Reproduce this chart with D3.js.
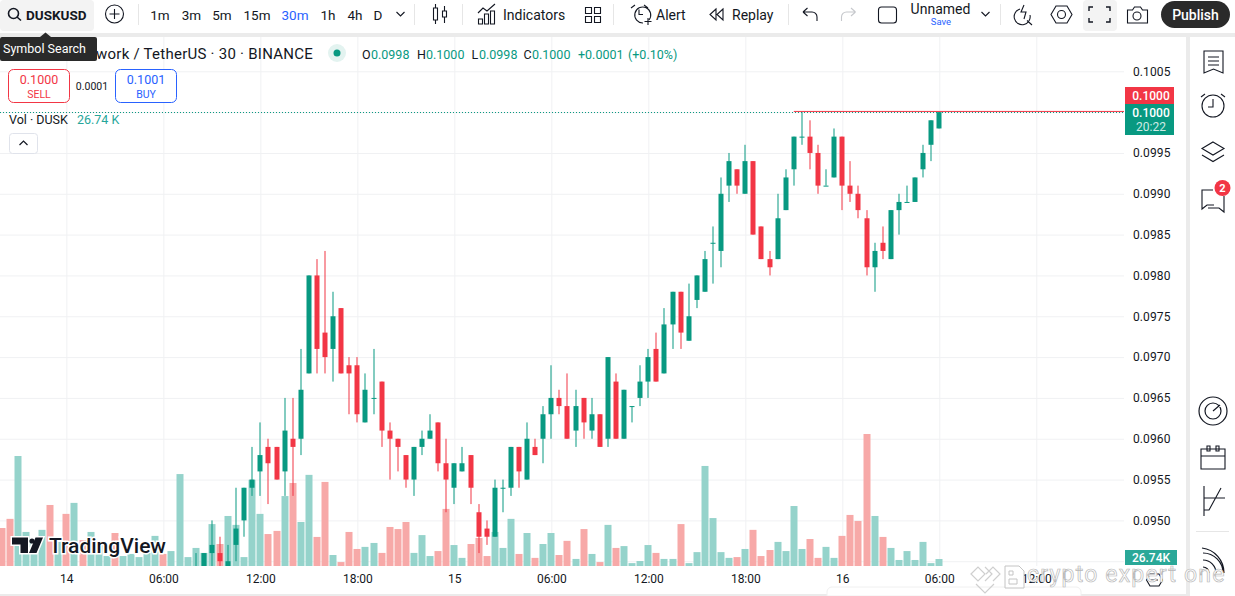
<!DOCTYPE html>
<html>
<head>
<meta charset="utf-8">
<script src="https://cdnjs.cloudflare.com/ajax/libs/d3/7.8.5/d3.min.js"></script>
<style>
  html, body { margin: 0; padding: 0; background: #fff; overflow: hidden; }
  svg { display: block; font-family: Roboto, sans-serif; }
  text { fill: #131722; }
</style>
</head>
<body>
<svg id="chart" width="1235" height="596"></svg>
<script>
// 30 minute candles, the first 24 volume bars have no visible candle
const candleOpen = [0.0942,0.0943,0.0946,0.0946,0.0943,0.0947,0.0950,0.0954,0.0956,0.0959,0.0959,0.0956,0.0960,0.0960,0.0968,0.0980,0.0973,0.0971,0.0976,0.0969,0.0969,0.0962,0.0965,0.0967,0.0961,0.0960,0.0958,0.0955,0.0959,0.0960,0.0962,0.0957,0.0954,0.0956,0.0958,0.0951,0.0949,0.0948,0.0954,0.0954,0.0959,0.0955,0.0959,0.0960,0.0963,0.0965,0.0964,0.0961,0.0965,0.0961,0.0963,0.0960,0.0967,0.0960,0.0964,0.0965,0.0967,0.0971,0.0968,0.0974,0.0978,0.0972,0.0977,0.0978,0.0984,0.0983,0.0991,0.0993,0.0990,0.0994,0.0986,0.0982,0.0982,0.0988,0.0993,0.0997,0.0997,0.0995,0.0991,0.0992,0.0997,0.0991,0.0990,0.0987,0.0981,0.0984,0.0982,0.0988,0.0989,0.0989,0.0993,0.0996,0.0998];
const candleHigh = [0.0946,0.0946,0.0950,0.0948,0.0947,0.0954,0.0954,0.0959,0.0962,0.0960,0.0959,0.0965,0.0965,0.0971,0.0980,0.0982,0.0983,0.0978,0.0976,0.0970,0.0970,0.0968,0.0971,0.0967,0.0962,0.0960,0.0958,0.0959,0.0961,0.0963,0.0962,0.0960,0.0957,0.0959,0.0958,0.0952,0.0950,0.0955,0.0955,0.0959,0.0959,0.0962,0.0960,0.0964,0.0969,0.0966,0.0968,0.0966,0.0965,0.0965,0.0963,0.0970,0.0968,0.0966,0.0964,0.0969,0.0971,0.0973,0.0976,0.0978,0.0978,0.0979,0.0980,0.0983,0.0986,0.0992,0.0995,0.0993,0.0996,0.0994,0.0986,0.0983,0.0990,0.0993,0.0997,0.1000,0.0999,0.0996,0.0993,0.0998,0.0997,0.0994,0.0991,0.0988,0.0984,0.0986,0.0988,0.0990,0.0991,0.0992,0.0996,0.0999,0.1000];
const candleLow = [0.0942,0.0942,0.0943,0.0943,0.0943,0.0945,0.0948,0.0953,0.0953,0.0952,0.0955,0.0953,0.0953,0.0958,0.0968,0.0968,0.0968,0.0967,0.0968,0.0963,0.0962,0.0962,0.0963,0.0959,0.0955,0.0956,0.0954,0.0953,0.0958,0.0960,0.0956,0.0951,0.0952,0.0956,0.0952,0.0946,0.0947,0.0948,0.0951,0.0953,0.0954,0.0955,0.0958,0.0957,0.0960,0.0963,0.0960,0.0959,0.0960,0.0960,0.0959,0.0959,0.0960,0.0960,0.0962,0.0964,0.0965,0.0967,0.0968,0.0971,0.0971,0.0972,0.0976,0.0978,0.0979,0.0981,0.0989,0.0990,0.0990,0.0985,0.0982,0.0980,0.0982,0.0988,0.0991,0.0996,0.0993,0.0990,0.0991,0.0992,0.0988,0.0989,0.0987,0.0980,0.0978,0.0982,0.0982,0.0985,0.0989,0.0989,0.0992,0.0994,0.0998];
const candleClose = [0.0944,0.0946,0.0947,0.0945,0.0945,0.0949,0.0954,0.0955,0.0958,0.0957,0.0955,0.0961,0.0959,0.0966,0.0980,0.0971,0.0970,0.0975,0.0968,0.0968,0.0963,0.0966,0.0965,0.0961,0.0960,0.0959,0.0955,0.0959,0.0960,0.0961,0.0957,0.0955,0.0957,0.0957,0.0954,0.0948,0.0948,0.0954,0.0954,0.0959,0.0956,0.0960,0.0958,0.0963,0.0965,0.0964,0.0960,0.0964,0.0962,0.0963,0.0959,0.0970,0.0960,0.0966,0.0964,0.0967,0.0970,0.0967,0.0974,0.0978,0.0973,0.0975,0.0980,0.0982,0.0984,0.0990,0.0994,0.0991,0.0994,0.0985,0.0982,0.0981,0.0987,0.0992,0.0997,0.0997,0.0995,0.0991,0.0991,0.0997,0.0991,0.0990,0.0988,0.0981,0.0983,0.0983,0.0988,0.0989,0.0989,0.0992,0.0995,0.0999,0.1000];
const firstCandleBar = 24;

// volume in thousands, one per bar
const volumes = [145,180,420,130,99,138,233,92,199,241,99,130,84,38,126,38,46,34,50,115,46,57,351,34,69,50,160,84,191,157,34,329,199,122,134,267,317,168,348,111,321,42,15,130,65,73,88,50,149,141,168,50,118,38,57,218,80,31,84,107,38,130,69,180,46,126,31,84,126,42,96,27,141,46,15,157,69,76,11,19,80,50,27,27,160,11,53,382,183,53,31,34,65,138,38,61,92,57,229,65,103,31,73,31,115,195,172,504,191,111,69,23,57,23,92,11,26.74];
// direction of the bars before the first visible candle
const earlyVolumeUp = [0,0,1,1,1,1,0,1,0,1,0,1,1,1,0,1,1,1,1,1,0,1,1,1];

const priceTicks = [0.1005,0.1000,0.0995,0.0990,0.0985,0.0980,0.0975,0.0970,0.0965,0.0960,0.0955,0.0950];
const priceGridExtra = [0.0945];
const timeTickBars = [8,20,32,44,56,68,80,92,104,116,128];
const timeTickLabels = ['14','06:00','12:00','18:00','15','06:00','12:00','18:00','16','06:00','12:00'];

const intervals = ['1m','3m','5m','15m','30m','1h','4h','D'];
const intervalX = [160,191.5,222,257,295,328,355,378];

const UP = '#089981', DOWN = '#f23645', BLUE = '#2962ff', INK = '#131722', GRID = '#f0f1f3', DARK = '#2a2a2a';
const paneBottom = 566, axisLeft = 1124;

const svg = d3.select('#chart');
const x = d3.scaleLinear().domain([0, 128]).range([1.7, 1036.3]);
const y = d3.scaleLinear().domain([0.0950, 0.1005]).range([520.4, 71.3]);
const volY = d3.scaleLinear().domain([0, 504]).range([paneBottom, paneBottom - 132]);

svg.append('defs').append('clipPath').attr('id', 'pane')
  .append('rect').attr('x', 0).attr('y', 37).attr('width', axisLeft).attr('height', paneBottom - 37);

function txt(sel, s, px, py, size, color, opts) {
  opts = opts || {};
  const t = sel.append('text').text(s).attr('x', px).attr('y', py)
    .attr('font-size', size).attr('dominant-baseline', 'central')
    .attr('text-anchor', opts.anchor || 'start')
    .style('fill', color);
  if (opts.weight) t.attr('font-weight', opts.weight);
  return t;
}

// page frame
svg.append('rect').attr('width', 1235).attr('height', 596).attr('fill', '#fff');
svg.append('rect').attr('x', 0).attr('y', 33).attr('width', 1235).attr('height', 4).attr('fill', '#ebebeb');
svg.append('rect').attr('x', 1186).attr('y', 33).attr('width', 4).attr('height', 563).attr('fill', '#ebebeb');
svg.append('rect').attr('x', 0).attr('y', 594).attr('width', 1186).attr('height', 2).attr('fill', '#ebebeb');

// grid, drawn by the axes
const gridG = svg.append('g').attr('clip-path', 'url(#pane)');
gridG.append('g').attr('transform', `translate(${axisLeft},0)`)
  .call(d3.axisLeft(y).tickValues(priceTicks.concat(priceGridExtra)).tickSize(axisLeft).tickFormat(''))
  .call(g => g.select('.domain').remove())
  .call(g => g.selectAll('line').attr('stroke', GRID));
gridG.append('g').attr('transform', `translate(0,${paneBottom})`)
  .call(d3.axisTop(x).tickValues(timeTickBars).tickSize(paneBottom - 37).tickFormat(''))
  .call(g => g.select('.domain').remove())
  .call(g => g.selectAll('line').attr('stroke', GRID));

// volume bars
function barUp(i) {
  if (i < firstCandleBar) return earlyVolumeUp[i] === 1;
  return candleClose[i - firstCandleBar] >= candleOpen[i - firstCandleBar];
}
svg.append('g').selectAll('rect').data(volumes).join('rect')
  .attr('x', (d, i) => Math.round(x(i)) - 3.5)
  .attr('width', 7)
  .attr('y', d => volY(d))
  .attr('height', d => paneBottom - volY(d))
  .attr('fill', (d, i) => barUp(i) ? '#95d3cb' : '#f7a9a8');

// candles
const candles = candleOpen.map((o, i) => ({ bar: i + firstCandleBar, o, h: candleHigh[i], l: candleLow[i], c: candleClose[i] }));
const candleG = svg.append('g').attr('clip-path', 'url(#pane)').selectAll('g').data(candles).join('g')
  .attr('fill', d => d.c >= d.o ? UP : DOWN);
candleG.append('rect')
  .attr('x', d => Math.round(x(d.bar)) - 0.5)
  .attr('width', 1)
  .attr('y', d => y(d.h))
  .attr('height', d => y(d.l) - y(d.h));
candleG.append('rect')
  .attr('x', d => Math.round(x(d.bar)) - 2.5)
  .attr('width', 5)
  .attr('y', d => y(Math.max(d.o, d.c)))
  .attr('height', d => Math.max(1, Math.abs(y(d.o) - y(d.c))));

// last price lines
svg.append('line').attr('x1', 0).attr('x2', axisLeft).attr('y1', y(0.1000) + 0.4).attr('y2', y(0.1000) + 0.4)
  .attr('stroke', UP).attr('stroke-dasharray', '1 2');
svg.append('line').attr('x1', x(98)).attr('x2', axisLeft).attr('y1', y(0.1000) - 0.7).attr('y2', y(0.1000) - 0.7)
  .attr('stroke', DOWN);

// price axis
svg.append('g').attr('transform', 'translate(1133,0)')
  .call(d3.axisRight(y).tickValues(priceTicks.filter(p => p !== 0.1000)).tickSize(0).tickPadding(0).tickFormat(d3.format('.4f')))
  .call(g => g.select('.domain').remove())
  .call(g => g.selectAll('text').attr('font-size', 12).attr('font-family', 'Roboto').style('letter-spacing', '0.1px').style('fill', INK));

// time axis
svg.append('g').attr('transform', `translate(0,${paneBottom})`)
  .call(d3.axisBottom(x).tickValues(timeTickBars).tickSize(0).tickPadding(8).tickFormat((d, i) => timeTickLabels[i]))
  .call(g => g.select('.domain').remove())
  .call(g => g.selectAll('text').attr('font-size', 12).attr('font-family', 'Roboto').style('fill', INK));

// price tags on the axis
svg.append('rect').attr('x', 1125).attr('y', 87).attr('width', 49).attr('height', 17).attr('fill', DOWN);
txt(svg, '0.1000', 1151, 96, 12, '#fff', { anchor: 'middle', weight: 500 });
svg.append('rect').attr('x', 1125).attr('y', 104).attr('width', 49).attr('height', 31).attr('fill', UP);
txt(svg, '0.1000', 1151, 113, 12, '#fff', { anchor: 'middle', weight: 500 });
txt(svg, '20:22', 1151, 126.5, 12, '#cfeae5', { anchor: 'middle' });
svg.append('rect').attr('x', 1125).attr('y', 550).attr('width', 52).attr('height', 15).attr('fill', '#2aa898');
txt(svg, '26.74K', 1151, 558, 12, '#fff', { anchor: 'middle', weight: 500 });

// TradingView logo
const logo = svg.append('g');
logo.append('path').attr('d', 'M12 537.5h16v15.5h-7.5v-8.5H12z M43 537.5l-6.5 15.5h-7.5l6.5-15.5z')
  .attr('fill', '#131722').attr('stroke', '#fff').attr('stroke-width', 3).attr('paint-order', 'stroke');
logo.append('circle').attr('cx', 32).attr('cy', 541).attr('r', 2.6).attr('fill', '#131722');
txt(logo, 'TradingView', 49, 545.5, 21, '#131722', { weight: 500 })
  .attr('stroke', '#fff').attr('stroke-width', 3).attr('paint-order', 'stroke');

// legend
txt(svg, 'work / TetherUS · 30 · BINANCE', 313, 54, 15, INK, { anchor: 'end' }).style('letter-spacing', '0.25px');
svg.append('circle').attr('cx', 337).attr('cy', 53).attr('r', 9).attr('fill', '#e3f3f0');
svg.append('circle').attr('cx', 337).attr('cy', 53).attr('r', 3.5).attr('fill', UP);
[['O', 362, '0.0998', 371], ['H', 417, '0.1000', 426], ['L', 471.5, '0.0998', 479], ['C', 523.5, '0.1000', 532]].forEach(r => {
  txt(svg, r[0], r[1], 54, 12.5, INK);
  txt(svg, r[2], r[3], 54, 12.5, UP);
});
txt(svg, '+0.0001', 578, 54, 12.5, UP);
txt(svg, '(+0.10%)', 628, 54, 12.5, UP);

// sell and buy boxes
svg.append('rect').attr('x', 8.5).attr('y', 69.5).attr('width', 61).attr('height', 33).attr('rx', 5).attr('fill', '#fff').attr('stroke', DOWN);
txt(svg, '0.1000', 39, 79.5, 12.5, DOWN, { anchor: 'middle' });
txt(svg, 'SELL', 39, 94, 10.5, DOWN, { anchor: 'middle' });
txt(svg, '0.0001', 92, 86.5, 10.5, INK, { anchor: 'middle' });
svg.append('rect').attr('x', 115.5).attr('y', 69.5).attr('width', 61).attr('height', 33).attr('rx', 5).attr('fill', '#fff').attr('stroke', BLUE);
txt(svg, '0.1001', 146, 79.5, 12.5, BLUE, { anchor: 'middle' });
txt(svg, 'BUY', 146, 94, 10.5, BLUE, { anchor: 'middle' });

// volume legend
txt(svg, 'Vol · DUSK', 9, 119, 12.5, INK);
txt(svg, '26.74 K', 77, 119, 12.5, '#26a69a');
svg.append('rect').attr('x', 9.5).attr('y', 133.5).attr('width', 28).attr('height', 20).attr('rx', 3).attr('fill', '#fff').attr('stroke', '#e0e3eb');
svg.append('path').attr('d', 'M19.5 145l4-4 4 4').attr('fill', 'none').attr('stroke', INK).attr('stroke-width', 1.2);

// top toolbar
svg.append('rect').attr('x', 0).attr('y', 0).attr('width', 94).attr('height', 31).attr('rx', 4).attr('fill', '#f3f3f3');
svg.append('rect').attr('x', 1083).attr('y', 0).attr('width', 34).attr('height', 31).attr('rx', 4).attr('fill', '#f3f3f3');
txt(svg, 'DUSKUSD', 26, 14.5, 13.5, INK, { weight: 700 });
intervals.forEach((s, i) => txt(svg, s, intervalX[i], 14.5, 13.5, s === '30m' ? BLUE : INK, { anchor: 'middle' }));
txt(svg, 'Indicators', 503, 14.5, 14, INK);
txt(svg, 'Alert', 656, 14.5, 14, INK);
txt(svg, 'Replay', 732, 14.5, 14, INK);
txt(svg, 'Unnamed', 940.5, 9, 14, INK, { anchor: 'middle' });
txt(svg, 'Save', 941, 21.5, 9.5, BLUE, { anchor: 'middle' });
svg.append('rect').attr('x', 1161).attr('y', 1).attr('width', 69).attr('height', 27).attr('rx', 13.5).attr('fill', DARK);
txt(svg, 'Publish', 1195.5, 14.5, 14, '#fff', { anchor: 'middle', weight: 500 });

[138, 414, 462, 613, 788, 1000].forEach(px => {
  svg.append('line').attr('x1', px + 0.5).attr('x2', px + 0.5).attr('y1', 4).attr('y2', 25).attr('stroke', '#e6e6e6');
});

// line icons, black on white
const iconPaths = [
  { d: 'M8.5 13.5a5 5 0 1 0 10 0a5 5 0 1 0-10 0M17 17l4 3.5', w: 1.6 },
  { d: 'M105.5 14a9 9 0 1 0 18 0a9 9 0 1 0-18 0M114.5 9v10M109.5 14h10' },
  { d: 'M396.5 12l4 4 4-4' },
  { d: 'M435.5 4v4M435.5 20v4M433.5 8h4v12h-4zM444.5 6v5M444.5 17v6M442.5 11h4v6h-4z' },
  { d: 'M478 13l5-5 4 3 8-7M478.5 19h4v5h-4zM484.5 14h4v10h-4zM490.5 11h4v13h-4z' },
  { d: 'M585.5 7.5h6v6h-6zM594.5 7.5h6v6h-6zM585.5 16.5h6v6h-6zM594.5 16.5h6v6h-6z' },
  { d: 'M649 20a8 8 0 1 0-6 3M639 9.5v5h4M631 8l4-3M648 8l-4-3M648 18v7M644.5 21.5h7' },
  { d: 'M716 9l-6 5.5 6 5.5zM723 9l-6 5.5 6 5.5z' },
  { d: 'M803 12l4.5-4M803 12l4.5 4M803 12h9a5 5 0 0 1 5 5v4' },
  { d: 'M855.5 12l-4.5-4M855.5 12l-4.5 4M855.5 12h-9a5 5 0 0 0-5 5v4', c: '#c6c8cc' },
  { d: 'M878.5 10a3 3 0 0 1 3-3h12a3 3 0 0 1 3 3v10a3 3 0 0 1-3 3h-12a3 3 0 0 1-3-3z' },
  { d: 'M981.5 12l4 4 4-4' },
  { d: 'M1027 20.5l5 4.5M1020 9a8 8 0 1 0 10 6M1024 5l-3 7h5l-2 7' },
  { d: 'M1056 6h11l5 8.5-5 8.5h-11l-5-8.5zM1057.5 14.5a4 4 0 1 0 8 0a4 4 0 1 0-8 0' },
  { d: 'M1093 7h-4v4M1106 7h4v4M1093 22h-4v-4M1106 22h4v-4', w: 1.4 },
  { d: 'M1127.5 10h5l2-3h6l2 3h5v13h-20zM1133 16a4 4 0 1 0 8 0a4 4 0 1 0-8 0' },
  // side bar
  { d: 'M1204 51h19v22l-9.5-4-9.5 4zM1208 57h11M1208 61h11M1208 65h11' },
  { d: 'M1202 106a11 11 0 1 0 22 0a11 11 0 1 0-22 0M1213 99v8h-5M1201 97l4-3M1225 97l-4-3' },
  { d: 'M1213 142l11 6.5-11 6.5-11-6.5zM1202 155l11 6.5 11-6.5' },
  { d: 'M1213 190h-11v19l5-4h7M1224 196v16l-5-4h-11' },
  { d: 'M1199 411a14 14 0 1 0 28 0a14 14 0 1 0-28 0M1205 411a8 8 0 1 0 16 0a8 8 0 1 0-16 0M1213 411l7-6', w: 1.2 },
  { d: 'M1201 449h24v20h-24zM1201 456h24M1207 446h3v5h-3zM1216 446h3v5h-3z' },
  { d: 'M1204 486v30M1204 498h21M1204 510h5l12-22' },
  { d: 'M1203 553a20 20 0 0 1 20 20M1203 560a13 13 0 0 1 13 13M1203 567a6 6 0 0 1 6 6M1202 548a25 25 0 0 1 22 25', w: 1.2 },
  { d: 'M1196 531.5h33', c: '#e6e6e6' },
  { d: 'M1150 574h9l3.5 6-3.5 6h-9l-3.5-6zM1151 580h7' }
];
svg.append('g').selectAll('path').data(iconPaths).join('path')
  .attr('d', d => d.d)
  .attr('fill', 'none')
  .attr('stroke', d => d.c || INK)
  .attr('stroke-width', d => d.w || 1.1);

// chat badge
svg.append('circle').attr('cx', 1222.5).attr('cy', 188).attr('r', 8).attr('fill', DOWN);
txt(svg, '2', 1222.5, 188.5, 11, '#fff', { anchor: 'middle', weight: 700 });

// symbol search tooltip
svg.append('path').attr('d', 'M40 37l5.5-4.5 5.5 4.5z').attr('fill', DARK);
svg.append('rect').attr('x', 0).attr('y', 37).attr('width', 97).attr('height', 24).attr('rx', 2).attr('fill', DARK);
txt(svg, 'Symbol Search', 3, 48.5, 12.5, '#fff');

// panel peeking in at the bottom
svg.append('path').attr('d', 'M827 596v-4a5 5 0 0 1 5-5h244a5 5 0 0 1 5 5v4z').attr('fill', '#fff').attr('stroke', '#f0f0f0');

// watermark laid over the screenshot
const mark = svg.append('g');
mark.append('path').attr('d', 'M971 574l7-7 7 7-7 7zM976 584l9 9 9-9M985 567l7 7-7 7M986 574l7-7 7 7-7 7')
  .attr('fill', 'none').attr('stroke', '#cfcfcf').attr('stroke-width', 1.2);
mark.append('path').attr('d', 'M1005 566h14l5 5v17h-19zM1009 571h4v4h-4zM1009 579h8v5h-8z')
  .attr('fill', '#fff').attr('stroke', '#c4c4c4');
txt(mark, 'crypto expert one', 1027, 574, 23, '#fff')
  .attr('stroke', '#b8b8b8').attr('stroke-width', 0.7).style('letter-spacing', '1.2px');
</script>
</body>
</html>
